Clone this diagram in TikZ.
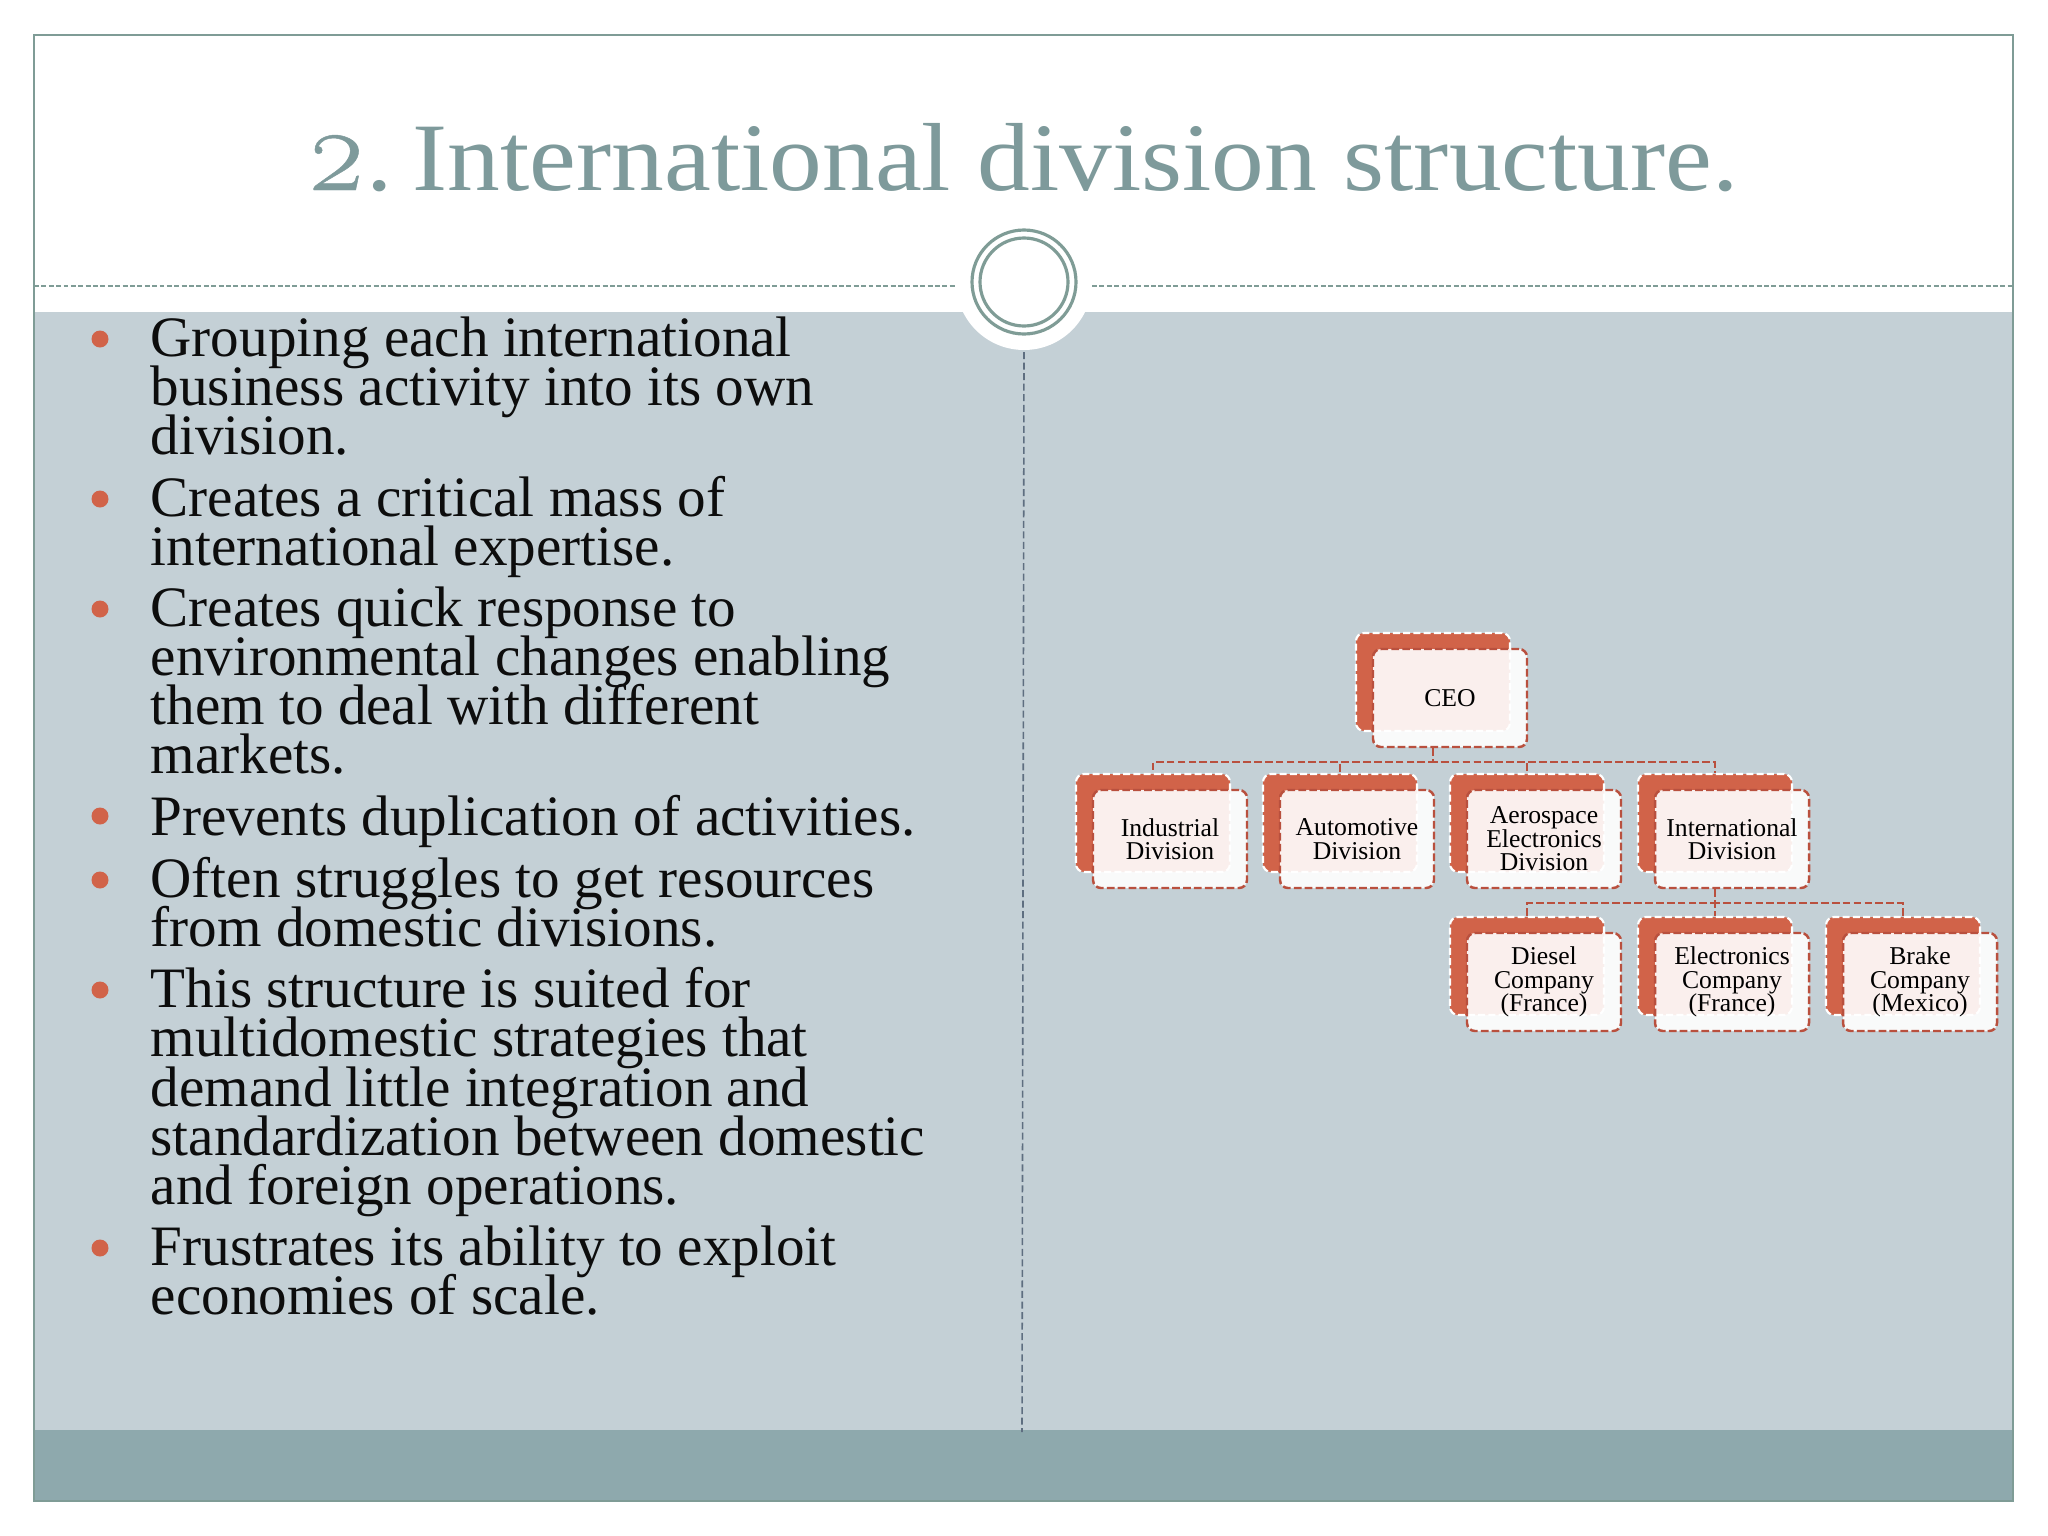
\documentclass[tikz,border=0pt]{standalone}
\usepackage{fontspec}
\setmainfont{Liberation Serif}
\newfontfamily\titlefont[FakeStretch=1.09]{Liberation Serif}
\newfontfamily\numfont[Numbers=OldStyle,Scale=1.22,FakeBold=0.4]{Latin Modern Roman}
\usepackage{tikz}
\definecolor{oriel}{HTML}{D16349}
\definecolor{linkred}{HTML}{B9503E}
\definecolor{frameline}{HTML}{7F9C96}
\definecolor{titlegray}{HTML}{7E9A9B}
\definecolor{bodygray}{HTML}{C4D0D6}
\definecolor{footgray}{HTML}{8EA9AD}
\definecolor{spine}{HTML}{5E6E80}
\newcommand\tightlines{\lineskiplimit=-20pt\relax}

\begin{document}
\begin{tikzpicture}[x=0.01cm,y=-0.01cm]
    \tikzstyle{item}=[anchor=north west,inner sep=0pt,align=left,text=black!95,font=\fontsize{16.25}{13.94}\selectfont\tightlines,execute at begin node={\rule{0pt}{12pt}}]
    \tikzstyle{bullet}=[circle,fill=oriel,minimum size=17*0.01cm,inner sep=0pt]
    \tikzstyle{back box}=[rectangle,rounded corners=0.08cm,minimum width=154*0.01cm,minimum height=98*0.01cm,inner sep=0pt,fill=oriel,draw=white,line width=0.6pt,dash pattern=on 2pt off 0.9pt]
    \tikzstyle{front box}=[rectangle,rounded corners=0.08cm,minimum width=154*0.01cm,minimum height=98*0.01cm,inner sep=0pt,fill=white,fill opacity=0.9,text opacity=1,draw=linkred,line width=0.7pt,dash pattern=on 2.2pt off 0.9pt,align=center,text=black,font=\fontsize{7.3}{6.7}\selectfont\tightlines]
    \tikzstyle{link}=[draw=linkred,line width=0.7pt,dash pattern=on 2.2pt off 0.9pt]
    \tikzstyle{hair}=[draw=frameline,line width=0.45pt,dash pattern=on 1.4pt off 0.7pt]

    \useasboundingbox (0,0) rectangle (2048,1536);
    \fill[white] (0,0) rectangle (2048,1536);

    % Draw the slide panels
    \fill[bodygray] (34,312) rectangle (2013,1430);
    \fill[footgray] (34,1430) rectangle (2013,1501);
    \draw[frameline,line width=0.5pt] (34,35) rectangle (2013,1501);

    % Draw the medallion
    \fill[white] (1024,282) circle (68);
    \draw[hair] (34,286) -- (956,286);
    \draw[hair] (1092,286) -- (2013,286);
    \draw[frameline,line width=0.9pt] (1024,282) circle (52);
    \draw[frameline,line width=0.9pt] (1024,282) circle (44);
    \draw[draw=spine,line width=0.45pt,dash pattern=on 2pt off 1pt] (1024,352) -- (1022,1432);

    \node[anchor=base,inner sep=0pt,text=titlegray,font=\titlefont\fontsize{27.5}{30}\selectfont] (title) at (1022,190) {{\numfont 2}.\hspace{-4.5pt} International division structure.};

    % Draw the bullet list
    \foreach \name / \y / \txt in {
        1/358/{Grouping each international\\business activity into its own\\division.},
        2/518/{Creates a critical mass of\\international expertise.},
        3/628/{Creates quick response to\\environmental changes enabling\\them to deal with different\\markets.},
        4/835/{Prevents duplication of activities.},
        5/899/{Often struggles to get resources\\from domestic divisions.},
        6/1009/{This structure is suited for\\multidomestic strategies that\\demand little integration and\\standardization between domestic\\and foreign operations.},
        7/1267/{Frustrates its ability to exploit\\economies of scale.}}
    {
        \node[bullet] (B\name) at (100,\y-19) {};
        \node[item] (T\name) at (150,\y-42) {\txt};
    }

    % Draw the chart boxes
    \foreach \name / \x / \y / \txt in {
        ceo/1433/682/CEO,
        ind/1153/823/{Industrial\\Division},
        aut/1340/823/{Automotive\\Division},
        aer/1527/823/{Aerospace\\Electronics\\Division},
        int/1715/823/{International\\Division},
        die/1527/966/{Diesel\\Company\\(France)},
        ele/1715/966/{Electronics\\Company\\(France)},
        bra/1903/966/{Brake\\Company\\(Mexico)}}
    {
        \node[back box] (B-\name) at (\x,\y) {};
        \node[front box] (F-\name) at (\x+17,\y+16) {\txt};
    }

    % Connect the CEO with every division
    \foreach \dest in {ind,aut,aer,int}
        \draw[link] (B-ceo.center |- F-ceo.south) -- ++(0,14) -| (B-\dest.north);

    % Connect the international division with every company
    \foreach \dest in {die,ele,bra}
        \draw[link] (B-int.center |- F-int.south) -- ++(0,14) -| (B-\dest.north);
\end{tikzpicture}
\end{document}
